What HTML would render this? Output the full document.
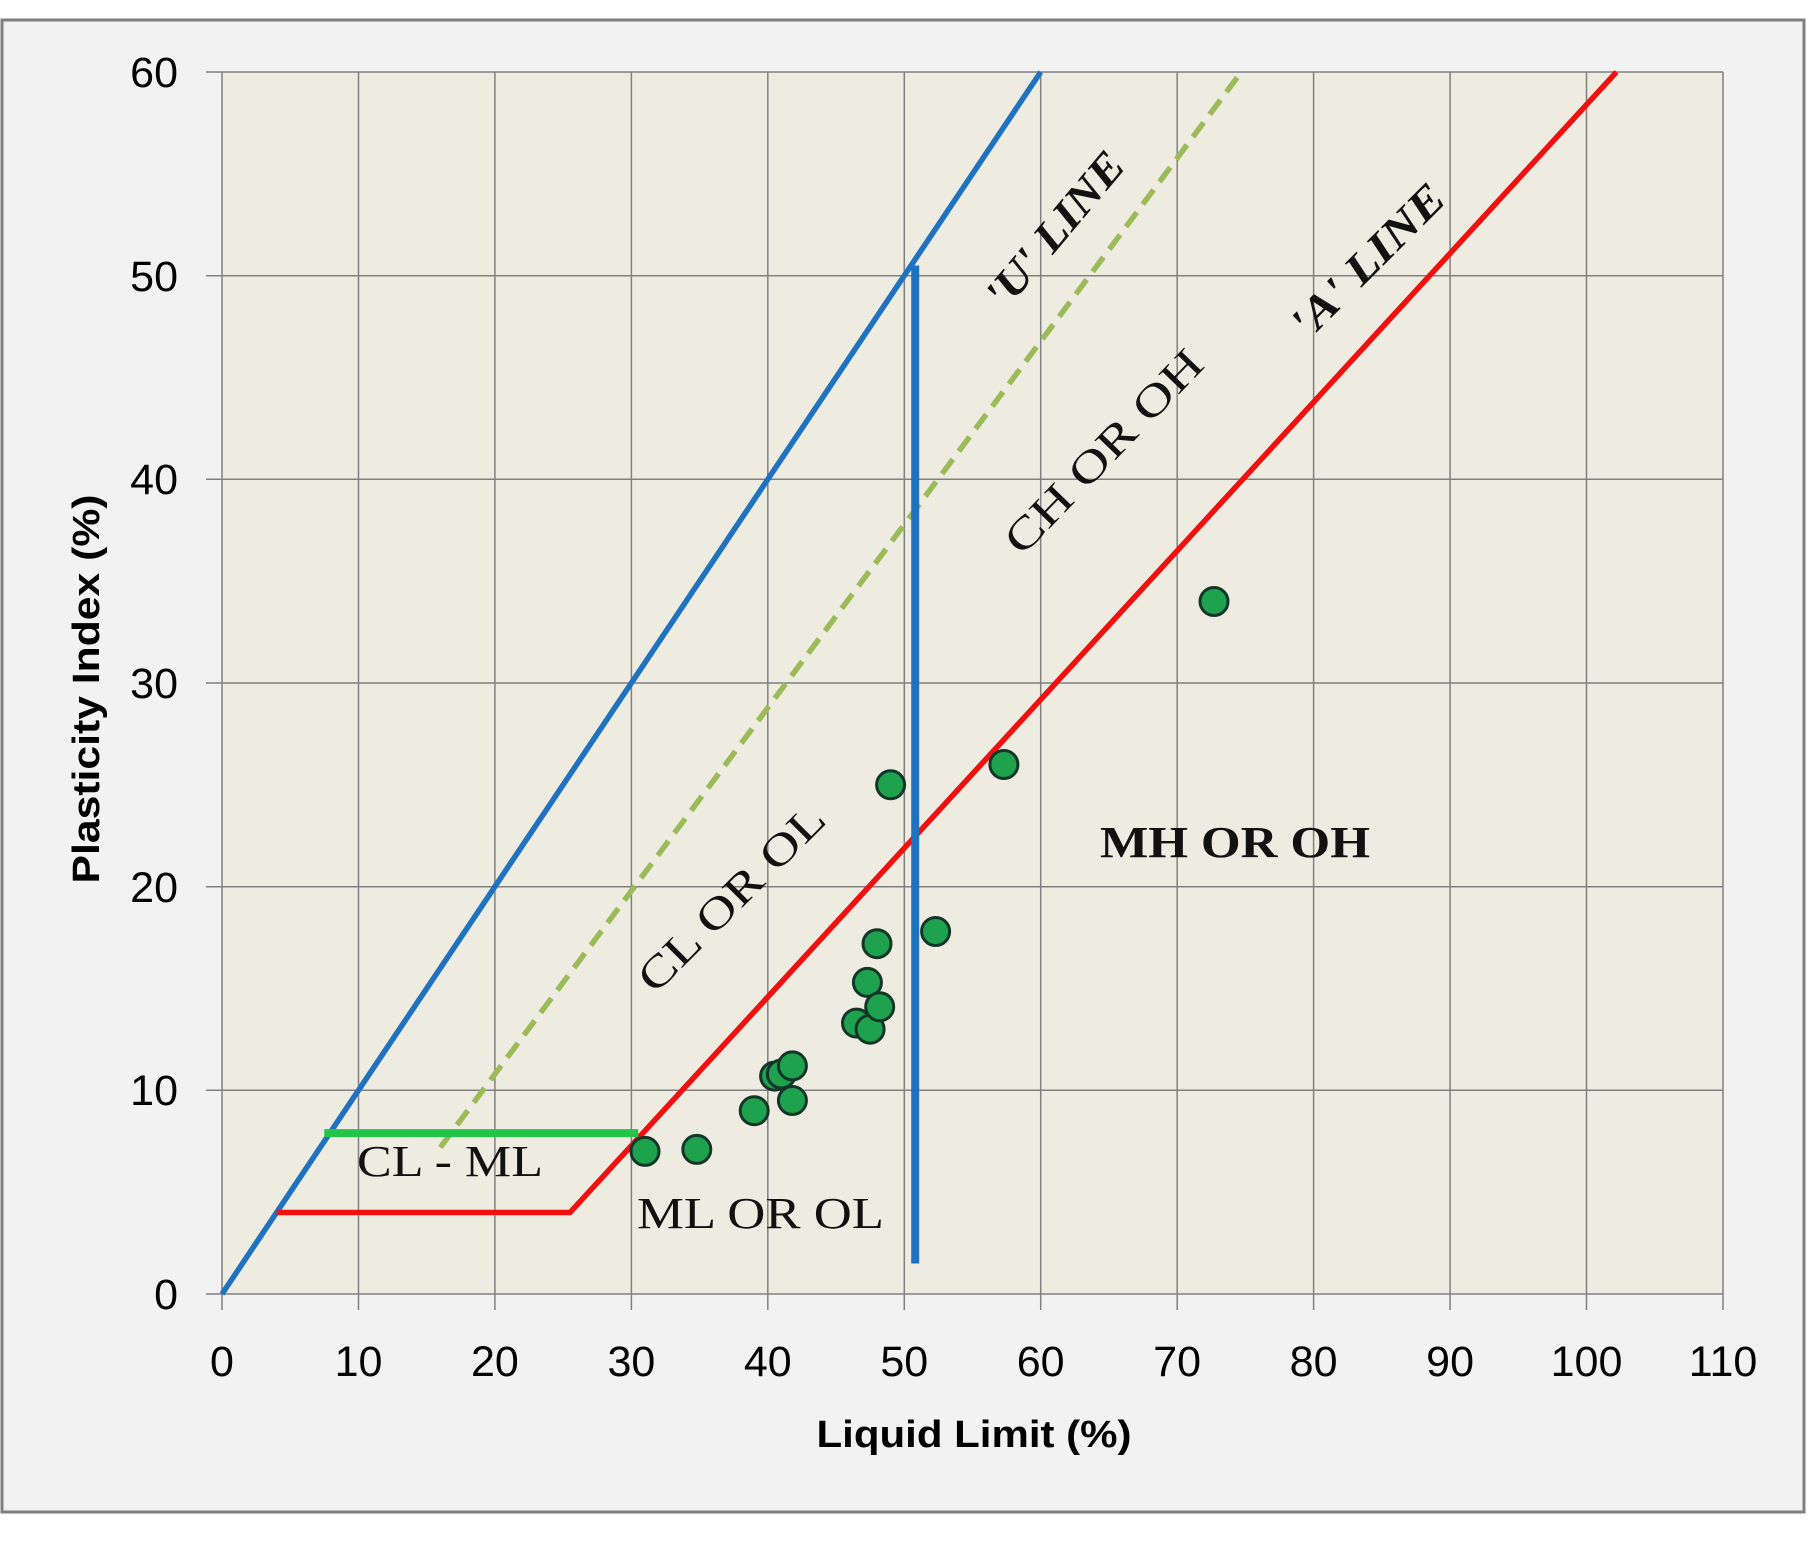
<!DOCTYPE html>
<html><head><meta charset="utf-8"><style>html,body{margin:0;padding:0;background:#fff}</style></head>
<body>
<svg width="1813" height="1548" viewBox="0 0 1813 1548" xmlns="http://www.w3.org/2000/svg">
<rect x="0" y="0" width="1813" height="1548" fill="#ffffff"/>
<rect x="2" y="20" width="1802" height="1492" fill="#f2f2f2" stroke="#7f7f7f" stroke-width="3"/>
<rect x="222" y="72" width="1501" height="1222" fill="#eeebe0"/>
<g stroke="#808080" stroke-width="1.5">
<line x1="222" y1="72" x2="222" y2="1310"/>
<line x1="358.5" y1="72" x2="358.5" y2="1310"/>
<line x1="494.9" y1="72" x2="494.9" y2="1310"/>
<line x1="631.4" y1="72" x2="631.4" y2="1310"/>
<line x1="767.8" y1="72" x2="767.8" y2="1310"/>
<line x1="904.3" y1="72" x2="904.3" y2="1310"/>
<line x1="1040.7" y1="72" x2="1040.7" y2="1310"/>
<line x1="1177.2" y1="72" x2="1177.2" y2="1310"/>
<line x1="1313.6" y1="72" x2="1313.6" y2="1310"/>
<line x1="1450.1" y1="72" x2="1450.1" y2="1310"/>
<line x1="1586.5" y1="72" x2="1586.5" y2="1310"/>
<line x1="1723" y1="72" x2="1723" y2="1310"/>
<line x1="206" y1="72" x2="1723" y2="72"/>
<line x1="206" y1="275.7" x2="1723" y2="275.7"/>
<line x1="206" y1="479.3" x2="1723" y2="479.3"/>
<line x1="206" y1="683" x2="1723" y2="683"/>
<line x1="206" y1="886.7" x2="1723" y2="886.7"/>
<line x1="206" y1="1090.3" x2="1723" y2="1090.3"/>
<line x1="206" y1="1294" x2="1723" y2="1294"/>
</g>
<g font-family="Liberation Sans, sans-serif" font-size="43" fill="#000" text-anchor="middle">
<text x="222" y="1376">0</text><text x="358.5" y="1376">10</text><text x="494.9" y="1376">20</text><text x="631.4" y="1376">30</text><text x="767.8" y="1376">40</text><text x="904.3" y="1376">50</text><text x="1040.7" y="1376">60</text><text x="1177.2" y="1376">70</text><text x="1313.6" y="1376">80</text><text x="1450.1" y="1376">90</text><text x="1586.5" y="1376">100</text><text x="1723" y="1376">110</text>
</g>
<g font-family="Liberation Sans, sans-serif" font-size="43" fill="#000" text-anchor="end">
<text x="178" y="87">60</text><text x="178" y="291">50</text><text x="178" y="494">40</text><text x="178" y="698">30</text><text x="178" y="902">20</text><text x="178" y="1105">10</text><text x="178" y="1309">0</text>
</g>
<text x="974" y="1447" font-family="Liberation Sans, sans-serif" font-weight="bold" font-size="38" text-anchor="middle" textLength="315" lengthAdjust="spacingAndGlyphs">Liquid Limit (%)</text>
<text transform="translate(99,689) rotate(-90)" font-family="Liberation Sans, sans-serif" font-weight="bold" font-size="38" text-anchor="middle" textLength="389" lengthAdjust="spacingAndGlyphs">Plasticity Index (%)</text>
<line x1="222" y1="1294" x2="1040.7" y2="72" stroke="#1f72c0" stroke-width="5.5"/>
<line x1="440.3" y1="1147.4" x2="1241.3" y2="72" stroke="#9bbb59" stroke-width="5.5" stroke-dasharray="18,10"/>
<polyline points="276.6,1212.5 570,1212.5 1616.5,72" fill="none" stroke="#f01010" stroke-width="5.5"/>
<line x1="324.3" y1="1133.1" x2="638.2" y2="1133.1" stroke="#22c44a" stroke-width="8"/>
<line x1="915.2" y1="265.5" x2="915.2" y2="1263.5" stroke="#1f72c0" stroke-width="8"/>
<g fill="#1ea24e" stroke="#14352a" stroke-width="3">
<circle cx="645" cy="1151.4" r="14"/><circle cx="696.8" cy="1149.4" r="14"/><circle cx="754.2" cy="1110.7" r="14"/><circle cx="774.6" cy="1076.1" r="14"/><circle cx="781.4" cy="1074" r="14"/><circle cx="792.4" cy="1065.9" r="14"/><circle cx="792.4" cy="1100.5" r="14"/><circle cx="856.5" cy="1023.1" r="14"/><circle cx="870.1" cy="1029.2" r="14"/><circle cx="867.4" cy="982.4" r="14"/><circle cx="879.7" cy="1006.8" r="14"/><circle cx="877" cy="943.7" r="14"/><circle cx="890.6" cy="784.8" r="14"/><circle cx="935.6" cy="931.5" r="14"/><circle cx="1003.9" cy="764.5" r="14"/><circle cx="1214" cy="601.5" r="14"/>
</g>
<g font-family="Liberation Serif, serif" font-size="44" fill="#111">
<text x="357" y="1176" textLength="186" lengthAdjust="spacingAndGlyphs">CL - ML</text>
<text x="637" y="1228" textLength="247" lengthAdjust="spacingAndGlyphs">ML OR OL</text>
<text x="1100" y="857" font-weight="bold" textLength="270" lengthAdjust="spacingAndGlyphs">MH OR OH</text>
<text transform="translate(655,995) rotate(-45)" textLength="245" lengthAdjust="spacingAndGlyphs">CL OR OL</text>
<text transform="translate(1022,557) rotate(-46)" textLength="265" lengthAdjust="spacingAndGlyphs">CH OR OH</text>
<text transform="translate(1005,312) rotate(-50)" font-weight="bold" font-style="italic" textLength="190" lengthAdjust="spacingAndGlyphs">'U' LINE</text>
<text transform="translate(1308,341) rotate(-45)" font-weight="bold" font-style="italic" textLength="198" lengthAdjust="spacingAndGlyphs">'A' LINE</text>
</g>
</svg>
</body></html>
